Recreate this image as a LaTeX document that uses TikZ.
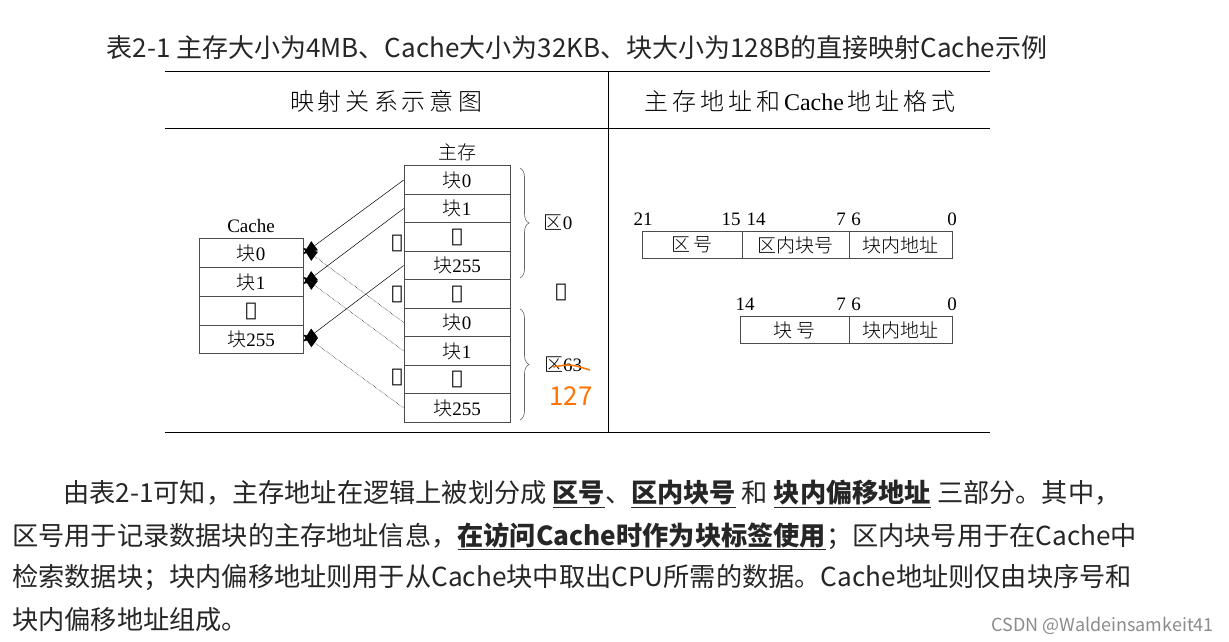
\documentclass[tikz,border=0pt]{standalone}
\usepackage{fontspec}
\setmainfont{Liberation Serif}
\newfontfamily\cjk{Noto Sans CJK SC}
\newfontfamily\cjkl{Noto Sans CJK SC Light}
\newfontfamily\dv{DejaVu Serif}
\usetikzlibrary{arrows.meta,decorations.pathreplacing}
\newcommand{\vd}{{\dv\fontsize{19}{19}\selectfont ⋮}}
\begin{document}
\begin{tikzpicture}[x=1pt,y=-1pt,
  cell/.style={draw=black!70,line width=0.6pt,minimum width=106pt,minimum height=28.5pt,inner sep=0pt,font=\cjkl\fontsize{19}{19}\selectfont},
  ccell/.style={cell,minimum width=104pt},
  arr/.style={-{Triangle[length=14pt,width=11pt]},line width=0.5pt},
  darr/.style={arr,densely dotted},
  lbl/.style={font=\cjkl\fontsize{19}{19}\selectfont,inner sep=0pt},
  num/.style={font=\fontsize{19}{19}\selectfont,inner sep=0pt},
  para/.style={anchor=west,inner sep=0pt,font=\cjk\fontsize{26.2}{26.2}\selectfont,text=black!85},
  rule/.style={line width=1pt}]
\useasboundingbox (0,0) rectangle (1229,642);
\fill[white] (0,0) rectangle (1229,642);
% title
\node[inner sep=0pt,font=\cjk\fontsize{26}{26}\selectfont,text=black!85] (title) at (577,48) {表2-1 主存大小为4MB、Cache大小为32KB、块大小为128B的直接映射Cache示例};
% table rules
\coordinate (tl) at (165,72); \coordinate (tr) at (990,72);
\coordinate (ml) at (165,128); \coordinate (mr) at (990,128);
\coordinate (bl) at (165,432); \coordinate (br) at (990,432);
\coordinate (vt) at (608,72); \coordinate (vb) at (608,432);
\draw[rule] (tl) -- (tr); \draw[line width=0.8pt] (ml) -- (mr); \draw[rule] (bl) -- (br);
\draw[line width=0.8pt] (vt) -- (vb);
\node[lbl,font=\cjkl\fontsize{24}{24}\selectfont] (h1) at (386,101) {映\,射\,关\,系\,示\,意\,图};
\node[lbl,font=\cjkl\fontsize{24}{24}\selectfont] (h2) at (800,101) {主\,存\,地\,址\,和\,{\rmfamily Cache}\,地\,址\,格\,式};
% main memory
\node[lbl] (mmt) at (457,152) {主存};
\node[cell] (m0) at (457,180) {块\rmfamily 0};
\node[cell] (m1) at (457,208.5) {块\rmfamily 1};
\node[cell] (m2) at (457,237) {\vd};
\node[cell] (m3) at (457,265.5) {块\rmfamily 255};
\node[cell] (m4) at (457,294) {\vd};
\node[cell] (m5) at (457,322.5) {块\rmfamily 0};
\node[cell] (m6) at (457,351) {块\rmfamily 1};
\node[cell] (m7) at (457,379.5) {\vd};
\node[cell] (m8) at (457,408) {块\rmfamily 255};
% cache
\node[num] (ct) at (251,226) {Cache};
\node[ccell] (c0) at (251,253) {块\rmfamily 0};
\node[ccell] (c1) at (251,282) {块\rmfamily 1};
\node[ccell] (c2) at (251,311) {\vd};
\node[ccell] (c3) at (251,339.5) {块\rmfamily 255};
% arrows
\coordinate (a0) at ([yshift=-1pt]c0.east); \coordinate (b0) at ([yshift=5pt]c0.east);
\coordinate (a1) at ([yshift=-2pt]c1.east); \coordinate (b1) at ([yshift=5pt]c1.east);
\coordinate (a3) at ([yshift=-2pt]c3.east); \coordinate (b3) at ([yshift=5pt]c3.east);
\draw[arr] (m0.west) -- (a0);
\draw[darr] (m5.west) -- (b0);
\draw[arr] (m1.west) -- (a1);
\draw[darr] (m6.west) -- (b1);
\draw[arr] (m3.west) -- (a3);
\draw[darr] (m8.west) -- (b3);
\node[inner sep=0pt] (d1) at (397,243) {\vd};
\node[inner sep=0pt] (d2) at (397,294) {\vd};
\node[inner sep=0pt] (d3) at (397,377) {\vd};
% braces
\coordinate (br0t) at (520,168); \coordinate (br0b) at (520,278);
\coordinate (br1t) at (520,309); \coordinate (br1b) at (520,420);
\draw[black!60,line width=0.6pt,decorate,decoration={brace,amplitude=9pt}] (br0t) -- (br0b);
\draw[black!60,line width=0.6pt,decorate,decoration={brace,amplitude=9pt}] (br1t) -- (br1b);
\node[lbl] (z0) at (558,223) {区\rmfamily 0};
\node[inner sep=0pt] (zd) at (561,292) {\vd};
\node[lbl] (z63) at (563,365) {区\rmfamily 63};
\coordinate (s1) at (553,367); \coordinate (s2) at (590,370);
\draw[orange!90!red,line width=1.5pt] (s1) .. controls (570,364) .. (s2);
\node[inner sep=0pt,text=orange!90!red,font=\cjk\fontsize{26}{26}\selectfont] (o127) at (571,396) {127};
% address formats
\node[num] (n21) at (643,219) {21};
\node[num] (n15) at (731,219) {15};
\node[num] (n14) at (756,219) {14};
\node[num] (n7) at (841,219) {7};
\node[num] (n6) at (856,219) {6};
\node[num] (n0) at (952,219) {0};
\node[draw=black!70,line width=0.6pt,minimum width=100pt,minimum height=27pt,inner sep=0pt,lbl] (f1) at (692,245) {区\,号};
\node[draw=black!70,line width=0.6pt,minimum width=107pt,minimum height=27pt,inner sep=0pt,lbl] (f2) at (795.5,245) {区内块号};
\node[draw=black!70,line width=0.6pt,minimum width=103pt,minimum height=27pt,inner sep=0pt,lbl] (f3) at (900.5,245) {块内地址};
\node[num] (p14) at (745,304) {14};
\node[num] (p7) at (841,304) {7};
\node[num] (p6) at (856,304) {6};
\node[num] (p0) at (952,304) {0};
\node[draw=black!70,line width=0.6pt,minimum width=109pt,minimum height=27pt,inner sep=0pt,lbl] (g1) at (794.5,330) {块\,号};
\node[draw=black!70,line width=0.6pt,minimum width=103pt,minimum height=27pt,inner sep=0pt,lbl] (g2) at (900.5,330) {块内地址};
% paragraph
\node[para] (l1) at (63,494) {由表2-1可知，主存地址在逻辑上被划分成 \underline{\textbf{区号}}、\underline{\textbf{区内块号}} 和 \underline{\textbf{块内偏移地址}} 三部分。其中，};
\node[para] (l2) at (12,536) {区号用于记录数据块的主存地址信息，\underline{\textbf{在访问Cache时作为块标签使用}}；区内块号用于在Cache中};
\node[para] (l3) at (12,578) {检索数据块；块内偏移地址则用于从Cache块中取出CPU所需的数据。Cache地址则仅由块序号和};
\node[para] (l4) at (12,620) {块内偏移地址组成。};
\node[anchor=east,inner sep=0pt,text=black!45,font=\cjk\fontsize{18}{18}\selectfont] (wm) at (1214,626) {CSDN @Waldeinsamkeit41};
\end{tikzpicture}
\end{document}
